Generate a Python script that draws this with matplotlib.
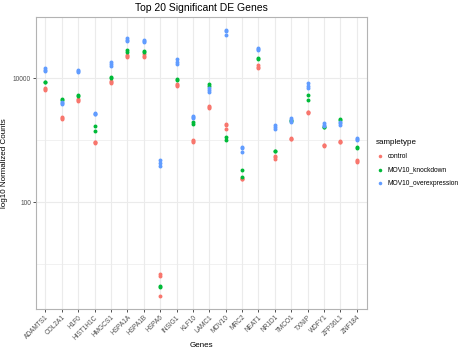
import numpy as np
import matplotlib
matplotlib.use("Agg")
import matplotlib.pyplot as plt

plt.rcParams["font.family"] = ["Liberation Sans", "DejaVu Sans"]

genes = ["ADAMTS1", "COL2A1", "H1F0", "HIST1H1C", "HMGCS1", "HSPA1A", "HSPA1B",
         "HSPA6", "INSIG1", "KLF10", "LAMC1", "MOV10", "MRC2", "NEAT1", "NR1D1",
         "TMCO1", "TXNIP", "WDFY1", "ZFP36L1", "ZNF184"]

# normalized counts per gene: 3 control, 2 knockdown, 3 overexpression samples
control = [
    [6823, 6577, 6402], [2323, 2265, 2183], [4585, 4416, 4255], [918, 912, 905],
    [8948, 8618, 8307], [23500, 22660, 22080], [24100, 22800, 21570], [6.9, 6.4, 3.05],
    [7913, 7625, 7349], [1000, 963, 918], [3573, 3404, 3281], [1811, 1746, 1520],
    [244, 235, 231], [16020, 15310, 14650], [558, 526, 494], [1077, 1049, 1026],
    [2857, 2806, 2755], [830, 830, 815], [963, 940, 918], [471, 462, 447],
]
knockdown = [
    [8716, 8555], [4585, 4416], [5383, 5130], [1701, 1396], [10260, 10000],
    [28320, 26570], [26970, 26260], [4.42, 4.21], [9529, 9285], [1951, 1831],
    [8004, 7514], [1106, 1011], [328, 253], [20790, 20420], [666, 653],
    [2065, 2024], [5383, 4366], [1640, 1622], [2158, 2104], [762, 748],
]
overexpression = [
    [14330, 13710, 13120], [4150, 3953, 3811], [13620, 12970, 12360], [2699, 2626, 2599],
    [17920, 16820, 15790], [43660, 41790, 39990], [41500, 39540, 37660], [484, 433, 381],
    [20050, 18320, 16820], [2410, 2323, 2239], [6823, 6402, 5875], [59440, 58350, 49400],
    [771, 730, 647], [30130, 29360, 28320], [1725, 1622, 1503], [2239, 2104, 1951],
    [8216, 7571, 6899], [1858, 1778, 1682], [1973, 1880, 1746], [1064, 1038, 1000],
]

groups = [("control", control, "#F8766D"),
          ("MOV10_knockdown", knockdown, "#00BA38"),
          ("MOV10_overexpression", overexpression, "#619CFF")]

fig = plt.figure(figsize=(4.74, 3.54), dpi=100)
ax = fig.add_axes([36 / 474, 45 / 354, 330.7 / 474, 292.3 / 354])

for name, vals, col in groups:
    xs = []
    ys = []
    for i, v in enumerate(vals):
        xs.extend([i] * len(v))
        ys.extend(v)
    ax.scatter(xs, ys, s=8, color=col, label=name, linewidths=0, zorder=3)

ax.set_yscale("log")
ax.set_ylim(1.88, 97500)
ax.set_xlim(-0.57, 19.6)
ax.set_yticks([100, 10000])
ax.set_yticklabels(["100", "10000"])
ax.set_yticks([10, 1000], minor=True)
ax.yaxis.set_minor_formatter(matplotlib.ticker.NullFormatter())
ax.tick_params(axis="y", which="minor", length=0)
ax.set_xticks(range(len(genes)))
ax.set_xticklabels(genes, rotation=45, ha="right", rotation_mode="anchor")

ax.grid(True, which="major", color="#EBEBEB", linewidth=0.8)
ax.grid(True, which="minor", axis="y", color="#EBEBEB", linewidth=0.5)
ax.set_axisbelow(True)
for s in ax.spines.values():
    s.set_color("#B3B3B3")
    s.set_linewidth(0.8)
ax.tick_params(axis="both", which="major", length=2, width=0.6, color="#333333",
               labelsize=4.7, labelcolor="#4D4D4D", pad=1.5)

ax.set_title("Top 20 Significant DE Genes", fontsize=7.5, pad=4)
ax.set_xlabel("Genes", fontsize=5.8)
ax.xaxis.set_label_coords(0.5, -0.112)
ax.set_ylabel("log10 Normalized Counts", fontsize=5.8)
ax.yaxis.set_label_coords(-0.084, 0.5)

leg = ax.legend(title="sampletype", loc="upper left", bbox_to_anchor=(1.02, 0.59),
                frameon=False, fontsize=4.8, title_fontsize=5.8, markerscale=0.9,
                handletextpad=0.6, labelspacing=1.0, borderaxespad=0, handlelength=1.2)
leg._legend_box.align = "left"

fig.savefig("out.png", dpi=100)
